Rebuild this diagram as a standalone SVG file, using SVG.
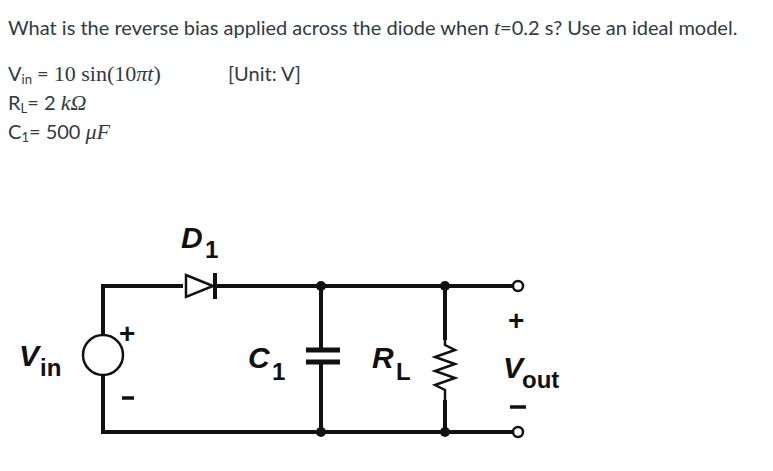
<svg xmlns="http://www.w3.org/2000/svg" width="773" height="471" viewBox="0 0 773 471">
<style>
.t{font-family:Lato,"Liberation Sans",sans-serif;font-size:20px;fill:#2d3b45}
.m{font-family:"Liberation Serif",serif;font-size:22px;fill:#2d3b45}
.w{stroke:#111;stroke-width:4;fill:none}
.l{font-family:"Liberation Sans",Arial,sans-serif;font-weight:bold;fill:#111}
</style>
<rect width="773" height="471" fill="#fff"/>
<text class="t" x="8" y="35">What is the reverse bias applied across the diode when <tspan class="m" font-style="italic">t</tspan>=0.2 s? Use an ideal model.</text>
<text class="t" x="8" y="81">V<tspan font-size="13" dy="3">in</tspan><tspan dy="-3"> = </tspan><tspan class="m">10 sin(10<tspan font-style="italic">πt</tspan>)</tspan></text>
<text class="t" x="228" y="81">[Unit: V]</text>
<text class="t" x="8" y="110">R<tspan font-size="13" dy="3">L</tspan><tspan dy="-3">= 2 </tspan><tspan class="m" font-style="italic">k</tspan><tspan class="m" font-style="italic">Ω</tspan></text>
<text class="t" x="8" y="139">C<tspan font-size="13" dy="3">1</tspan><tspan dy="-3">= 500 </tspan><tspan class="m" font-style="italic">μF</tspan></text>
<g id="wires" class="w">
<path d="M103 335 V286 H183 M215 286 H512"/>
<path d="M103 375 V432 H512"/>
<path d="M321 286 V350 M321 362 V432"/>
<path d="M445 286 V340 M445 400 V432"/>
</g>
<g id="vin"><circle cx="103" cy="355" r="20" fill="none" stroke="#111" stroke-width="2.5"/>
<text class="l" x="19" y="366" font-size="30" font-style="italic">V</text><text class="l" x="40" y="376" font-size="24">in</text>
<text class="l" x="119" y="343" font-size="28">+</text><path d="M122 398 H134" stroke="#111" stroke-width="3.5"/></g>
<g id="d1"><path d="M186 275 L213 286 L186 297 Z" fill="#fff" stroke="#111" stroke-width="2.5"/><path d="M215 273 V299" stroke="#111" stroke-width="4"/>
<text class="l" x="181" y="248" font-size="30" font-style="italic">D</text><text class="l" x="205" y="258" font-size="24">1</text></g>
<g id="c1"><path d="M306 350 H340 M306 362 H340" stroke="#111" stroke-width="5"/>
<text class="l" x="248" y="368" font-size="30" font-style="italic">C</text><text class="l" x="272" y="380" font-size="24">1</text></g>
<g id="rl"><path d="M445 340 V345 L455 350 L435 357 L455 364 L435 371 L455 378 L435 385 L445 390 V400" fill="none" stroke="#111" stroke-width="2.5"/>
<text class="l" x="372" y="368" font-size="30" font-style="italic">R</text><text class="l" x="396" y="380" font-size="24">L</text></g>
<g id="dots" fill="#111"><circle cx="321" cy="286" r="5"/><circle cx="445" cy="286" r="5"/><circle cx="321" cy="432" r="5"/><circle cx="445" cy="432" r="5"/></g>
<g id="vout"><circle cx="518" cy="286" r="5" fill="#fff" stroke="#111" stroke-width="2.5"/><circle cx="518" cy="432" r="5" fill="#fff" stroke="#111" stroke-width="2.5"/>
<text class="l" x="508" y="330" font-size="28">+</text>
<text class="l" x="503" y="378" font-size="30" font-style="italic">V</text><text class="l" x="522" y="388" font-size="24">out</text>
<path d="M510 407 H526" stroke="#111" stroke-width="3.5"/></g>
</svg>
